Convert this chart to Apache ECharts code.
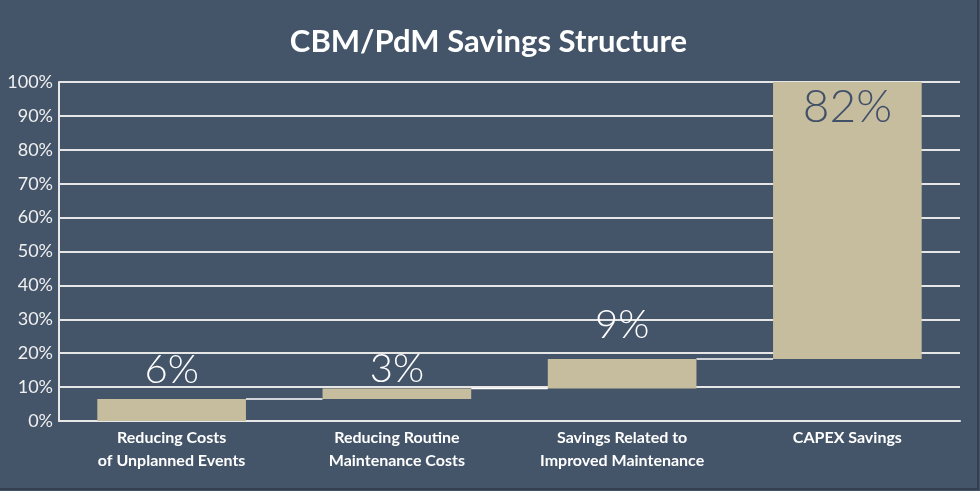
<!DOCTYPE html>
<html><head><meta charset="utf-8">
<script src="https://cdn.jsdelivr.net/npm/echarts@6/dist/echarts.min.js"></script>
<style>
html,body{margin:0;padding:0;background:#445469;}
#frame{width:977px;height:488px;border-right:2px solid #34404f;border-bottom:2px solid #34404f;}
#c{width:977px;height:488px;}
</style></head>
<body><div id="frame"><div id="c"></div></div>
<script>
const categories = ["Reducing Costs\nof Unplanned Events", "Reducing Routine\nMaintenance Costs", "Savings Related to\nImproved Maintenance", "CAPEX Savings"];
const savings = [6.5, 3.1, 8.7, 81.7];
const valueLabels = ["6%", "3%", "9%", "82%"];
const yMin = 0, yMax = 100, yStep = 10;

const BG = '#445469', BAR = '#c6bc9e', WHITE = '#ffffff';
const labelOffsets = [[0, -4], [0, 6], [0, -9]];
const barPct = 0.66;

const bases = [];
let run = 0;
for (let i = 0; i < savings.length; i++) { bases.push(run); run += savings[i]; }
const connectors = [];
for (let i = 0; i < savings.length - 1; i++) connectors.push([i, bases[i] + savings[i]]);

const chart = echarts.init(document.getElementById('c'), null, {renderer: 'canvas'});
chart.setOption({
  backgroundColor: BG,
  animation: false,
  title: {
    text: 'CBM/PdM Savings Structure', left: 'center', top: 21,
    textStyle: {color: WHITE, fontFamily: 'Lato', fontWeight: 'bold', fontSize: 31}
  },
  grid: {left: 59, right: 17, top: 82, bottom: 67, containLabel: false},
  xAxis: {
    type: 'category', data: categories,
    axisLine: {show: true, lineStyle: {color: '#e8e8e8', width: 2}},
    axisTick: {show: false},
    axisLabel: {color: WHITE, fontFamily: 'Lato', fontWeight: 'bold', fontSize: 16, lineHeight: 23, margin: 5, interval: 0}
  },
  yAxis: {
    type: 'value', min: yMin, max: yMax, interval: yStep,
    axisLine: {show: true, lineStyle: {color: '#e8e8e8', width: 2}},
    axisTick: {show: false},
    axisLabel: {color: '#f0f0f0', fontFamily: 'Lato', fontSize: 18, margin: 6, formatter: v => v + '%'},
    splitLine: {lineStyle: {color: '#e6e6e6', width: 2}}
  },
  series: [
    {
      type: 'bar', stack: 'w', data: bases, barWidth: (barPct * 100) + '%',
      itemStyle: {color: 'rgba(0,0,0,0)'}, silent: true
    },
    {
      type: 'bar', stack: 'w', barWidth: (barPct * 100) + '%',
      itemStyle: {color: BAR},
      data: savings.map((v, i) => {
        const last = i === savings.length - 1;
        return {
          value: v,
          label: last ? {
            show: true, position: 'insideTop', distance: 2, formatter: valueLabels[i],
            color: '#3f5068', fontFamily: 'Lato', fontWeight: 300, fontSize: 46
          } : {
            show: true, position: 'top', distance: 5, offset: labelOffsets[i], formatter: valueLabels[i],
            color: WHITE, fontFamily: 'Lato', fontWeight: 300, fontSize: 40
          }
        };
      })
    },
    {
      type: 'custom', data: connectors, encode: {x: 0, y: 1}, silent: true, z: 1,
      renderItem: function (params, api) {
        const p = api.coord([api.value(0), api.value(1)]);
        const band = api.size([1, 0])[0];
        const hw = band * barPct / 2;
        return {
          type: 'line',
          shape: {x1: p[0] + hw, y1: p[1], x2: p[0] + band - hw, y2: p[1]},
          style: {stroke: WHITE, lineWidth: 1.5}
        };
      }
    }
  ]
});
</script></body></html>
